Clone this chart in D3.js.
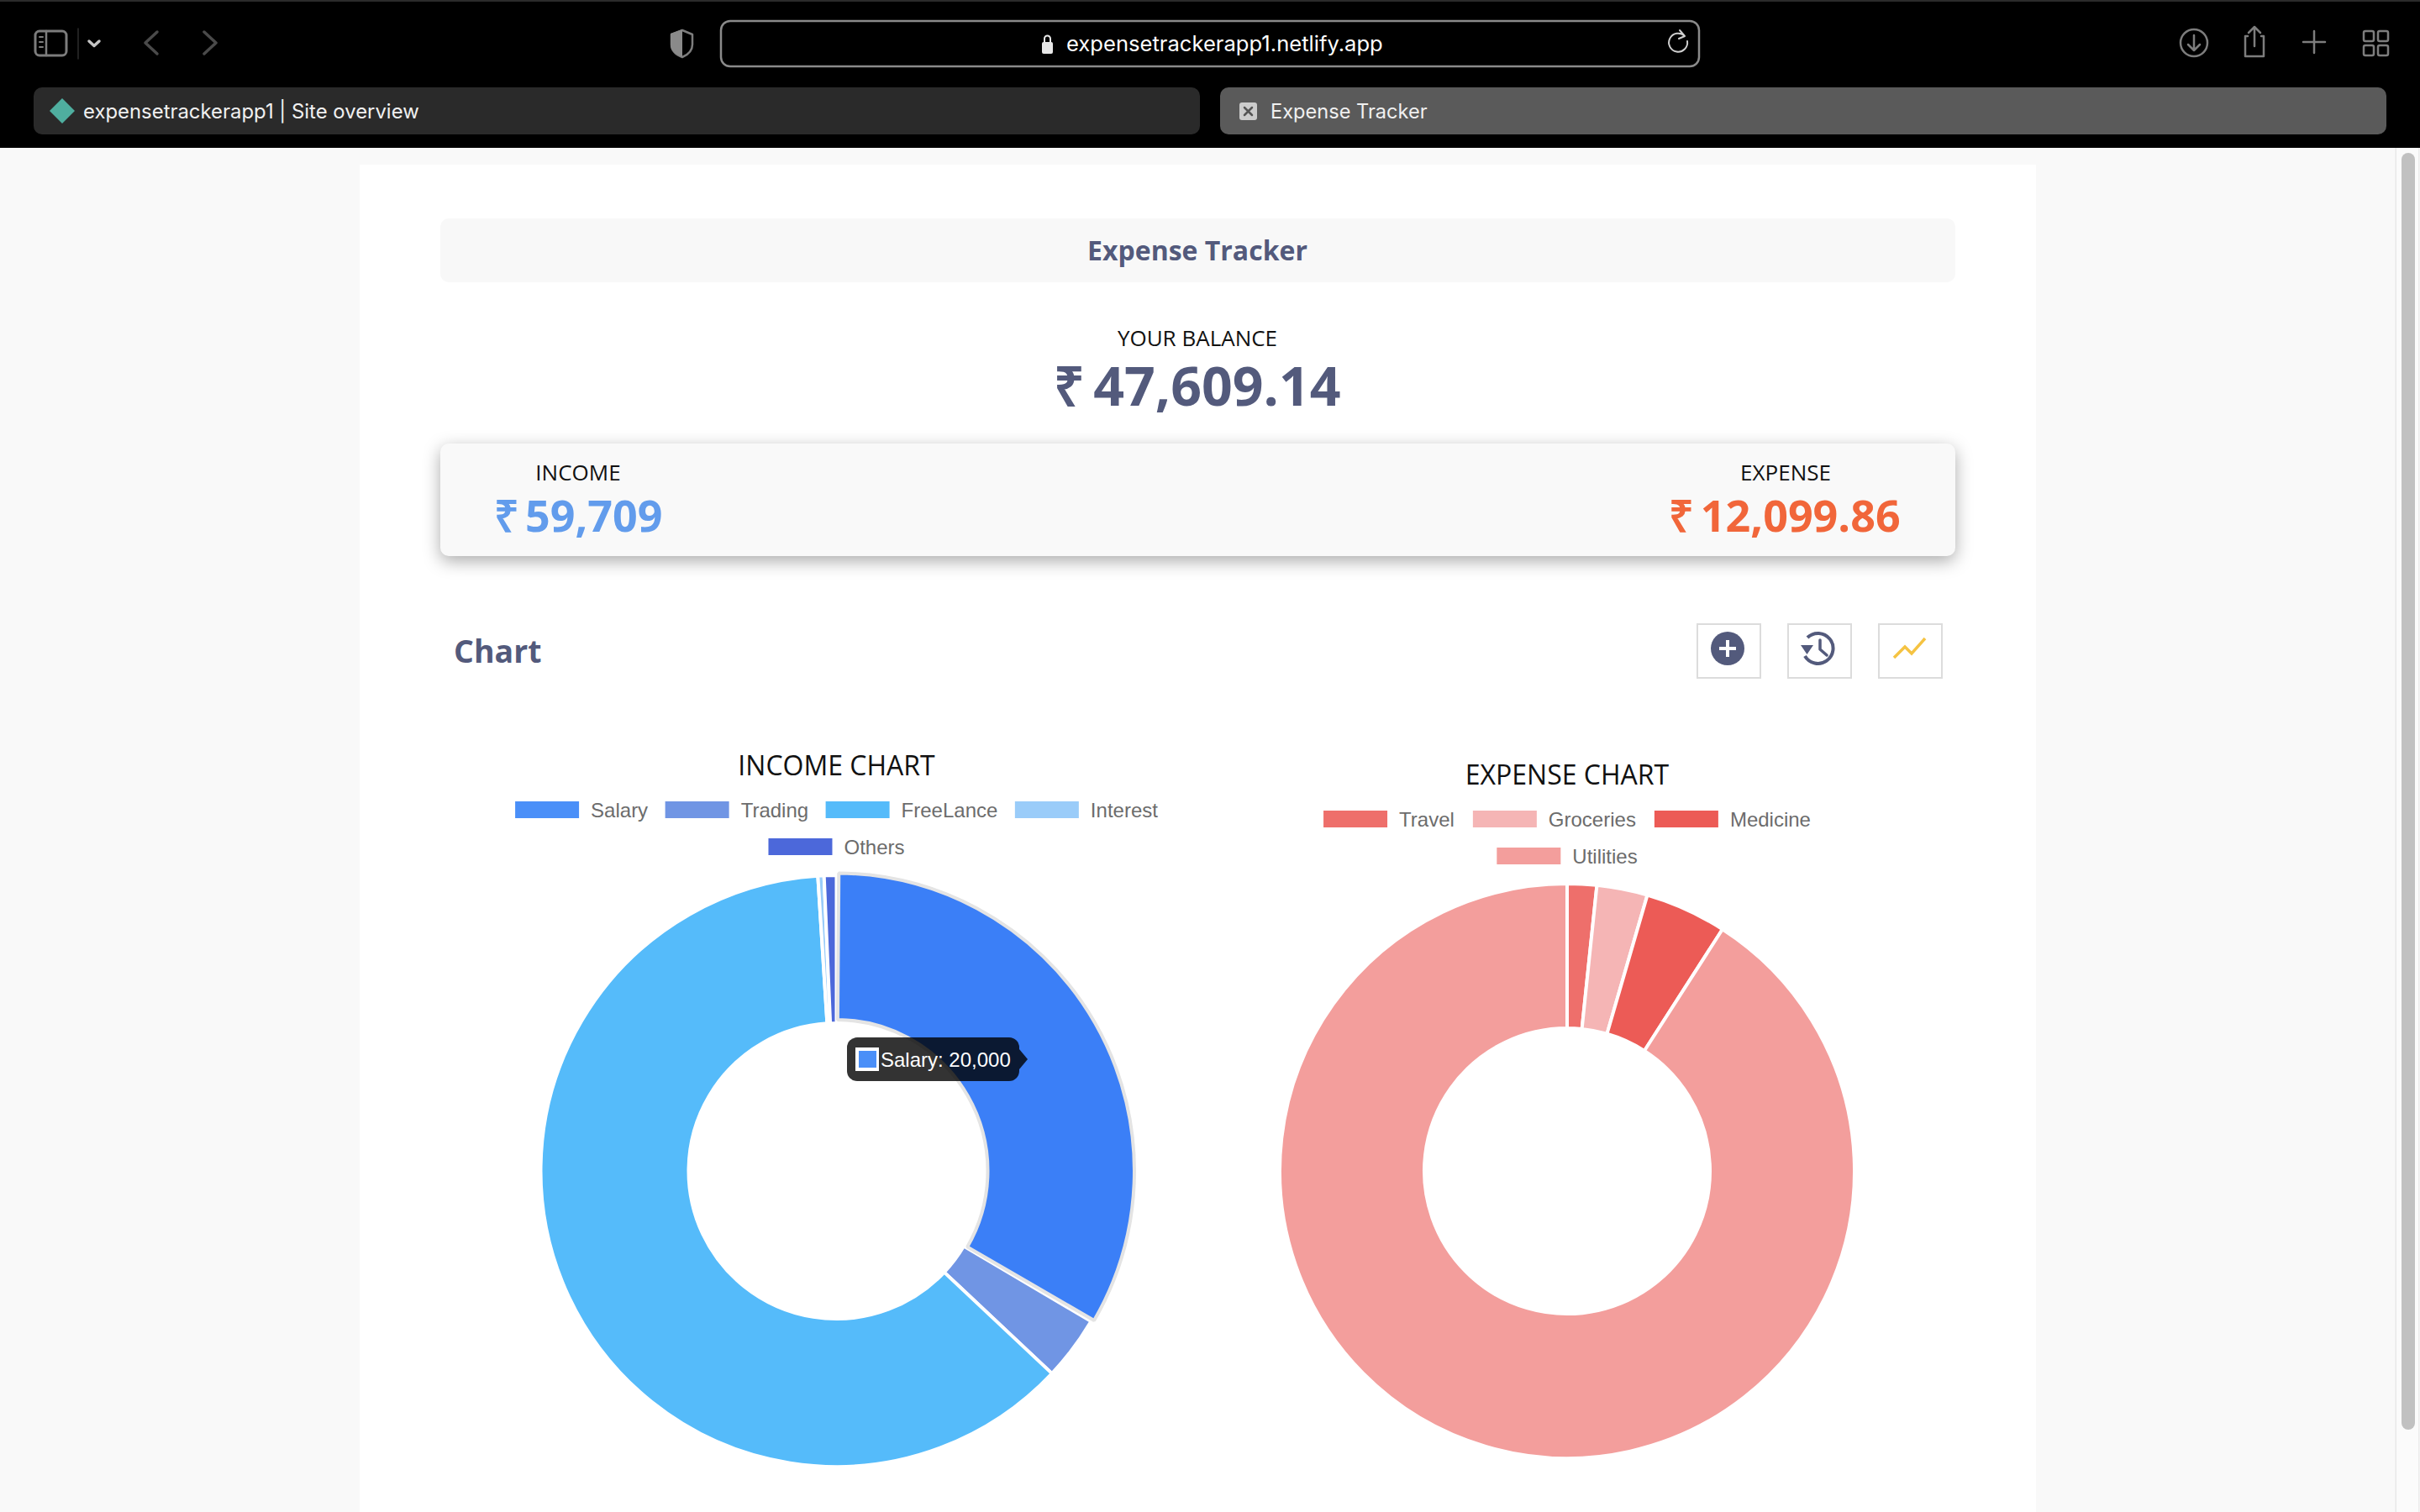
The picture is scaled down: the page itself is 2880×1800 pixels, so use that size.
<!DOCTYPE html>
<html><head><meta charset="utf-8">
<script src="https://cdnjs.cloudflare.com/ajax/libs/d3/7.8.5/d3.min.js"></script>
<style>
html,body{margin:0;padding:0;background:#f9f9f9;overflow:hidden}
svg{display:block}
.os{font-family:"Open Sans",sans-serif}
.sys{font-family:"Liberation Sans",Arial,sans-serif}
.ui{font-family:Inter,"Liberation Sans",sans-serif}
</style></head><body>
<svg id="c" width="2880" height="1800" viewBox="0 0 2880 1800"></svg>
<script>
// ---- data ----
const incomeLabels = ["Salary","Trading","FreeLance","Interest","Others"];
const incomeValues = [20000,2100,37009,200,400];
const incomeColors = ["#3b7ff7","#7095e4","#55bbfa","#9accf9","#4c68da"];
const incomeLegendColors = ["#4a8ff8","#7095e4","#55bbfa","#9accf9","#4c68da"];
const expenseLabels = ["Travel","Groceries","Medicine","Utilities"];
const expenseValues = [200,345,555,10999.86];
const expenseColors = ["#ee6f6b","#f5b5b5","#ec5b56","#f39e9c"];
const balanceText = "₹ 47,609.14";
const incomeText = "₹ 59,709";
const expenseText = "₹ 12,099.86";
const hoveredLabel = "Salary";

const svg = d3.select("#c");
const rect=(x,y,w,h,o={})=>{const r=svg.append("rect").attr("x",x).attr("y",y).attr("width",w).attr("height",h);
  for(const k in o) r.attr(k,o[k]); return r;};
const text=(s,x,y,o={})=>{const t=svg.append("text").attr("x",x).attr("y",y).attr("dominant-baseline","central").text(s);
  for(const k in o) t.style(k,o[k]); return t;};
const line=(d,stroke,w=3,fill="none",par=svg)=>par.append("path").attr("d",d).attr("stroke",stroke).attr("stroke-width",w).attr("fill",fill).attr("stroke-linecap","round").attr("stroke-linejoin","round");

// ---- browser chrome ----
rect(0,0,2880,176,{fill:"#000"});
rect(0,0,2880,2,{fill:"#2b2b2b"});
rect(40,104,1388,56,{fill:"#2a2a2a",rx:10});
rect(1452,104,1388,56,{fill:"#5a5a5a",rx:10});
rect(858,25,1164,54,{fill:"none",stroke:"#8a8a8a","stroke-width":2.5,rx:11});
const gc="#7d7d7d";
rect(42,37,37,29,{fill:"none",stroke:gc,"stroke-width":3,rx:5});
line("M55 37V66",gc,2.5);
line("M47 44h4M47 50h4M47 56h4",gc,2);
line("M93 34V70","#2c2c2c",1.5);
line("M106 49l6 5.500 6-5.500","#c4c4c4",3.500);
line("M187 38l-14 13 14 13","#4a4a4a",3.500);
line("M243 38l14 13-14 13","#4a4a4a",3.500);
line("M812 36l12 5v12q0 10-12 15q-13-5-13-15v-12z",gc,2.5,"none");
svg.append("path").attr("d","M812 35v33q-14-5-14-15v-13z").attr("fill","#8a8a8a");
rect(1240,50,13,14,{fill:"#e8e8e8",rx:2});
line("M1243 50v-4a3.5 3.5 0 0 1 7 0v4","#e8e8e8",2);
text("expensetrackerapp1.netlify.app",1269,51,{"font-size":"25.600px",fill:"#fff"}).attr("class","ui");
line("M2005 43a11 11 0 1 0 3 6M1999 36l6 7-7 3","#cfcfcf",2);
svg.append("circle").attr("cx",2611).attr("cy",51).attr("r",16).attr("fill","none").attr("stroke",gc).attr("stroke-width",2.5);
line("M2611 42v18M2604 53l7 7 7-7",gc,2.5);
line("M2675 43h-3v24h22v-24h-3M2683 55V32M2676 39l7-7 7 7",gc,2.5);
line("M2754 37v26M2741 50h26",gc,2.5);
[[2813,37],[2830,37],[2813,54],[2830,54]].forEach(p=>rect(p[0],p[1],12,12,{fill:"none",stroke:gc,"stroke-width":2.5,rx:2}));
svg.append("path").attr("d","M74 117L89 132L74 147L59 132Z").attr("fill","#4fae9f");
text("expensetrackerapp1 | Site overview",99,132,{"font-size":"23.900px",fill:"#f0f0f0"}).attr("class","ui");
rect(1475,122,21,21,{fill:"#ccc",rx:3});
line("M1481 128l9 9M1490 128l-9 9","#555",2.5);
text("Expense Tracker",1512,132,{"font-size":"23.600px",fill:"#f0f0f0"}).attr("class","ui");

// ---- page ----
rect(0,176,2880,1624,{fill:"#f9f9f9"});
rect(428,196,1995,1604,{fill:"#fff"});
rect(2851,176,29,1624,{fill:"#fbfbfb"});
rect(2850.500,176,1.500,1624,{fill:"#e8e8e8"});
rect(2878,176,1.500,1624,{fill:"#ececec"});
rect(2858,182,16,1520,{fill:"#c1c1c1",rx:8});

const ink="#535a7c";
rect(524,260,1803,76,{fill:"#f8f8f8",rx:10});
text("Expense Tracker",1425,297,{"font-size":"32px","font-weight":700,fill:ink,"text-anchor":"middle"}).attr("class","os");
text("YOUR BALANCE",1425,402,{"font-size":"26px",fill:"#111","text-anchor":"middle"}).attr("class","os");
text(balanceText,1425,458,{"font-size":"64.400px","font-weight":700,"word-spacing":"-7px",fill:ink,"text-anchor":"middle"}).attr("class","os");
rect(524,528,1803,134,{fill:"#f9f9f9",rx:10}).style("filter","drop-shadow(0 6px 10px rgba(0,0,0,.33))");
text("INCOME",688,562,{"font-size":"26px",fill:"#111","text-anchor":"middle"}).attr("class","os");
text(incomeText,688,612,{"font-size":"52px","font-weight":700,"word-spacing":"-6px",fill:"#629cec","text-anchor":"middle"}).attr("class","os");
text("EXPENSE",2125,562,{"font-size":"26px",fill:"#111","text-anchor":"middle"}).attr("class","os");
text(expenseText,2124,612,{"font-size":"52px","font-weight":700,"word-spacing":"-6px",fill:"#f1663a","text-anchor":"middle"}).attr("class","os");
text("Chart",540,774,{"font-size":"37.500px","font-weight":700,fill:ink}).attr("class","os");

[[2020,2095],[2128,2203],[2236,2311]].forEach(b=>rect(b[0],743,b[1]-b[0],64,{fill:"#fff",stroke:"#dcdcdc","stroke-width":2}));
svg.append("circle").attr("cx",2056).attr("cy",772).attr("r",20).attr("fill",ink);
line("M2056 762v20M2046 772h20","#fff",4).attr("stroke-linecap","butt");
line("M2151 759a18 18 0 1 1-3 22",ink,4).attr("stroke-linecap","butt");
svg.append("path").attr("d","M2143 768h15l-7.500 11z").attr("fill",ink);
line("M2166 762v11l8 7",ink,3.500);
line("M2254 783l13-13 8 8 16-18","#f5c342",3.500).attr("stroke-linecap","butt").attr("stroke-linejoin","miter");

// ---- donut charts ----
function donut({title,titleY,cx,cy,R,r,labels,values,colors,legendColors,legendTop,legendW,itemGap,hover}){
  const c = svg.append("g");
  c.append("text").attr("class","os").attr("x",cx).attr("y",titleY).attr("dominant-baseline","central")
    .attr("text-anchor","middle").style("font-size","32px").style("fill","#111").text(title);
  // flow legend
  const boxW=76, boxH=20, boxGap=14, rowH=44;
  const lg=c.append("g").attr("class","sys");
  const items=labels.map((l,i)=>{
    const t=lg.append("text").attr("dominant-baseline","central").style("font-size","24px").style("fill","#6c6c6c").text(l);
    return {l,i,t,w:boxW+boxGap+t.node().getComputedTextLength()};
  });
  const rows=[[]]; let used=0;
  items.forEach(it=>{
    if(used+it.w>legendW && rows[rows.length-1].length){rows.push([]);used=0;}
    rows[rows.length-1].push(it); used+=it.w+itemGap;
  });
  rows.forEach((row,ri)=>{
    const total=d3.sum(row,d=>d.w)+itemGap*(row.length-1);
    let x=cx-total/2; const y=legendTop+ri*rowH;
    row.forEach(it=>{
      lg.append("rect").attr("x",x).attr("y",y).attr("width",boxW).attr("height",boxH).attr("fill",legendColors[it.i]);
      it.t.attr("x",x+boxW+boxGap).attr("y",y+boxH/2);
      x+=it.w+itemGap;
    });
  });
  const pie=d3.pie().sort(null).value(d=>d)(values);
  const g=c.append("g").attr("transform",`translate(${cx},${cy})`);
  const arc=d3.arc().innerRadius(r).outerRadius(R);
  // hovered slice: radii grow, and the angular span shrinks slightly
  const hoverOffset=4, rIn=r+hoverOffset, rOut=R+2.500, mid=(rIn+rOut)/2;
  const arcH=d3.arc().innerRadius(rIn).outerRadius(rOut);
  g.selectAll("path.s").data(pie).join("path").attr("class","s")
    .attr("d",(d,i)=>labels[i]===hover?null:arc(d))
    .attr("fill",(d,i)=>colors[i]).attr("stroke","#fff").attr("stroke-width",4).attr("stroke-linejoin","bevel");
  pie.forEach((d,i)=>{ if(labels[i]===hover){
    const a=d.endAngle-d.startAngle, inset=(a-a*mid/(mid+hoverOffset))/4;
    g.append("path").attr("d",arcH({startAngle:d.startAngle+inset,endAngle:d.endAngle-inset}))
      .attr("fill",colors[i]).attr("stroke","#e4e4e4").attr("stroke-width",4).attr("stroke-linejoin","bevel");
  }});
}
donut({title:"INCOME CHART",titleY:910,cx:995.500,cy:1394,R:352,r:176,labels:incomeLabels,values:incomeValues,colors:incomeColors,legendColors:incomeLegendColors,legendTop:954,legendW:800,itemGap:20.500,hover:hoveredLabel});
donut({title:"EXPENSE CHART",titleY:921,cx:1865,cy:1394,R:342,r:170,labels:expenseLabels,values:expenseValues,colors:expenseColors,legendColors:expenseColors,legendTop:965,legendW:700,itemGap:22});

// ---- tooltip ----
const hi=incomeLabels.indexOf(hoveredLabel);
svg.append("path").attr("d","M1213 1249L1223 1261L1213 1273Z").attr("fill","rgba(0,0,0,.8)");
rect(1008,1235,205,52,{fill:"rgba(0,0,0,.8)",rx:12});
rect(1018,1247,28,28,{fill:"#fff"});
rect(1022,1251,21,20,{fill:incomeLegendColors[hi]});
text(`${hoveredLabel}: ${d3.format(",")(incomeValues[hi])}`,1048,1261,{"font-size":"24px",fill:"#fff"}).attr("class","sys");
</script>
</body></html>
